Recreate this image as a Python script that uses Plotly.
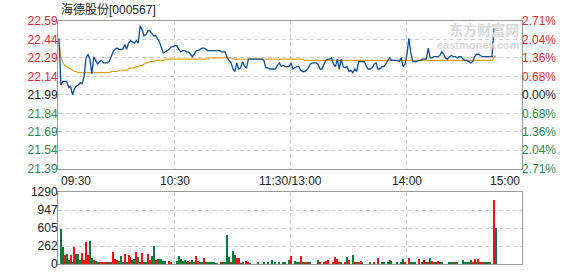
import plotly.graph_objects as go

# ---------------- data ----------------
title_text = "海德股份[000567]"
time_labels = ["09:30", "10:30", "11:30/13:00", "14:00", "15:00"]
time_label_minutes = [0, 60, 120, 180, 239.5]
grid_minutes = [60, 120, 180]

price_tick_labels = ["21.39", "21.54", "21.69", "21.84", "21.99", "22.14", "22.29", "22.44", "22.59"]
price_tick_values = [21.39, 21.54, 21.69, 21.84, 21.99, 22.14, 22.29, 22.44, 22.59]
pct_tick_labels = ["2.71%", "2.04%", "1.36%", "0.68%", "0.00%", "0.68%", "1.36%", "2.04%", "2.71%"]
prev_close = 21.99

vol_tick_labels = ["0", "262", "605", "947", "1290"]
vol_tick_values = [0, 322.5, 645, 967.5, 1290]

# minute-by-minute price (09:30 ... 14:46)
price = [
    22.45, 22.07, 22.10, 22.10, 22.10, 22.05, 22.06, 21.99, 22.04, 22.06,
    22.07, 22.09, 22.08, 22.14, 22.29, 22.32, 22.28, 22.16, 22.30, 22.27,
    22.24, 22.26, 22.27, 22.25, 22.25, 22.25, 22.26, 22.30, 22.34, 22.36,
    22.37, 22.36, 22.36, 22.36, 22.40, 22.36, 22.41, 22.43, 22.42, 22.41,
    22.43, 22.41, 22.55, 22.52, 22.47, 22.48, 22.51, 22.51, 22.49, 22.47,
    22.47, 22.44, 22.42, 22.37, 22.33, 22.34, 22.35, 22.36, 22.38, 22.38,
    22.39, 22.39, 22.36, 22.34, 22.35, 22.35, 22.34, 22.34, 22.32, 22.30,
    22.32, 22.35, 22.35, 22.36, 22.37, 22.37, 22.36, 22.35, 22.35, 22.35,
    22.35, 22.35, 22.35, 22.35, 22.34, 22.34, 22.34, 22.29, 22.27, 22.25,
    22.20, 22.18, 22.25, 22.20, 22.21, 22.26, 22.22, 22.21, 22.28, 22.28,
    22.28, 22.28, 22.28, 22.28, 22.28, 22.28, 22.27, 22.21, 22.21, 22.20,
    22.20, 22.20, 22.20, 22.23, 22.25, 22.22, 22.23, 22.22, 22.22, 22.22,
    22.25, 22.20, 22.21, 22.22, 22.22, 22.19, 22.18, 22.18, 22.19, 22.21,
    22.24, 22.25, 22.25, 22.25, 22.24, 22.20, 22.20, 22.24, 22.27, 22.28,
    22.28, 22.29, 22.24, 22.22, 22.28, 22.20, 22.28, 22.22, 22.21, 22.22,
    22.18, 22.19, 22.17, 22.20, 22.18, 22.26, 22.26, 22.26, 22.26, 22.22,
    22.20, 22.20, 22.21, 22.24, 22.25, 22.20, 22.20, 22.22, 22.22, 22.24,
    22.27, 22.29, 22.27, 22.27, 22.27, 22.27, 22.26, 22.29, 22.22, 22.24,
    22.32, 22.45, 22.33, 22.26, 22.26, 22.26, 22.27, 22.27, 22.28, 22.28,
    22.28, 22.37, 22.29, 22.29, 22.30, 22.30, 22.30, 22.31, 22.34, 22.32,
    22.29, 22.28, 22.30, 22.31, 22.30, 22.30, 22.29, 22.30, 22.30, 22.28,
    22.27, 22.27, 22.26, 22.25, 22.26, 22.30, 22.32, 22.32, 22.31, 22.30,
    22.30, 22.30, 22.30, 22.30, 22.30, 22.53, 22.51,
]

# average price line
avg_price = [
    22.43, 22.30, 22.25, 22.23, 22.22, 22.21, 22.20, 22.19, 22.18, 22.18,
    22.17, 22.17, 22.17, 22.17, 22.17, 22.17, 22.17, 22.17, 22.17, 22.17,
    22.17, 22.17, 22.17, 22.17, 22.17, 22.17, 22.17, 22.18, 22.18, 22.18,
    22.18, 22.19, 22.19, 22.19, 22.19, 22.19, 22.20, 22.21, 22.21, 22.21,
    22.22, 22.22, 22.23, 22.23, 22.24, 22.25, 22.25, 22.26, 22.26, 22.26,
    22.27, 22.27, 22.27, 22.27, 22.27, 22.28, 22.28, 22.28, 22.28, 22.28,
    22.28, 22.28, 22.28, 22.28, 22.28, 22.28, 22.28, 22.28, 22.28, 22.28,
    22.28, 22.28, 22.28, 22.28, 22.28, 22.28, 22.28, 22.28, 22.29, 22.29,
    22.29, 22.29, 22.29, 22.29, 22.29, 22.29, 22.29, 22.29, 22.29, 22.29,
    22.28, 22.28, 22.28, 22.28, 22.28, 22.28, 22.28, 22.28, 22.28, 22.28,
    22.28, 22.28, 22.28, 22.28, 22.28, 22.28, 22.28, 22.28, 22.28, 22.28,
    22.28, 22.28, 22.28, 22.28, 22.28, 22.28, 22.28, 22.28, 22.28, 22.28,
    22.28, 22.28, 22.28, 22.28, 22.28, 22.28, 22.28, 22.27, 22.27, 22.27,
    22.27, 22.27, 22.27, 22.27, 22.27, 22.27, 22.27, 22.27, 22.27, 22.27,
    22.27, 22.27, 22.27, 22.27, 22.27, 22.27, 22.27, 22.27, 22.27, 22.27,
    22.27, 22.27, 22.27, 22.27, 22.27, 22.27, 22.27, 22.27, 22.27, 22.27,
    22.27, 22.27, 22.27, 22.27, 22.27, 22.27, 22.27, 22.27, 22.27, 22.27,
    22.27, 22.27, 22.27, 22.27, 22.27, 22.27, 22.27, 22.27, 22.27, 22.27,
    22.27, 22.27, 22.27, 22.27, 22.27, 22.27, 22.27, 22.27, 22.27, 22.27,
    22.27, 22.27, 22.27, 22.27, 22.27, 22.27, 22.27, 22.27, 22.27, 22.27,
    22.27, 22.27, 22.27, 22.27, 22.27, 22.27, 22.27, 22.27, 22.27, 22.27,
    22.27, 22.27, 22.27, 22.27, 22.27, 22.27, 22.27, 22.27, 22.27, 22.27,
    22.27, 22.27, 22.27, 22.27, 22.27, 22.29, 22.31,
]

# volume per minute
volume = [
    0, 622, 296, 168, 180, 64, 168, 41, 296, 180,
    180, 76, 198, 76, 389, 157, 418, 105, 64, 52,
    41, 35, 23, 35, 35, 23, 35, 17, 209, 87,
    76, 58, 139, 23, 174, 41, 157, 128, 64, 93,
    209, 128, 41, 192, 23, 41, 174, 70, 139, 314,
    70, 87, 87, 87, 58, 46, 0, 46, 29, 0,
    0, 58, 145, 93, 58, 76, 41, 58, 17, 76,
    17, 134, 58, 29, 41, 105, 17, 29, 17, 29,
    17, 6, 6, 0, 41, 41, 29, 511, 122, 17,
    230, 155, 105, 105, 6, 17, 0, 52, 41, 6,
    0, 0, 0, 17, 0, 0, 41, 0, 29, 0,
    70, 0, 17, 0, 17, 0, 17, 17, 0, 70,
    139, 0, 52, 17, 17, 139, 17, 35, 35, 23,
    17, 0, 0, 0, 70, 23, 0, 23, 52, 70,
    0, 0, 23, 122, 87, 23, 41, 0, 41, 122,
    64, 0, 157, 35, 17, 23, 52, 23, 0, 0,
    0, 41, 0, 41, 0, 110, 0, 23, 23, 0,
    41, 70, 52, 0, 0, 23, 0, 23, 87, 23,
    0, 110, 17, 17, 23, 0, 87, 0, 17, 64,
    17, 41, 105, 52, 29, 41, 52, 41, 17, 0,
    0, 0, 17, 17, 17, 17, 17, 0, 0, 76,
    17, 17, 41, 70, 41, 87, 17, 87, 17, 41,
    17, 41, 17, 17, 0, 1150, 645,
]
# minutes whose volume bar is red (trade up); all others are green
up_minutes = [3, 6, 8, 12, 13, 14, 15, 18, 22, 23, 24, 26, 28, 29, 30, 34, 36, 37,
              40, 42, 43, 46, 47, 50, 57, 58, 67, 71, 72, 75, 84, 89, 92, 93, 94,
              97, 98, 120, 125, 127, 129, 135, 137, 138, 139, 142, 143, 144, 145,
              148, 150, 153, 155, 156, 163, 165, 171, 179, 181, 186, 189, 191, 193,
              195, 196, 205, 214, 215, 217, 218, 219, 225]

minutes = list(range(len(price)))

# ---------------- style ----------------
RED = "#e52a2a"
GREEN = "#2d8a4e"
DARK = "#222222"
BAR_RED = "#f01414"
BAR_GREEN = "#0b7a3b"
FRAME = "#9a9a9a"
GRID = "#cfcfcf"
FONT = "Liberation Sans, Noto Sans CJK SC, sans-serif"


def colored(text, color):
    return f'<span style="color:{color}">{text}</span>'


price_ticktext = []
pct_ticktext = []
for v, lab, plab in zip(price_tick_values, price_tick_labels, pct_tick_labels[::-1]):
    if v > prev_close + 1e-9:
        c = RED
    elif v < prev_close - 1e-9:
        c = GREEN
    else:
        c = DARK
    price_ticktext.append(colored(lab, c))
    pct_ticktext.append(colored(plab, c))

bar_colors = [BAR_RED if i in up_minutes else BAR_GREEN for i in minutes]

fig = go.Figure()

# invisible helper trace so the right-hand percent axis is drawn
fig.add_trace(go.Scatter(x=minutes, y=price, mode="lines", line=dict(width=0, color="rgba(0,0,0,0)"),
                         xaxis="x", yaxis="y3", hoverinfo="skip"))
fig.add_trace(go.Scatter(x=minutes, y=avg_price, mode="lines",
                         line=dict(color="#e3a21a", width=1.2),
                         xaxis="x", yaxis="y", hoverinfo="skip"))
fig.add_trace(go.Scatter(x=minutes, y=price, mode="lines",
                         line=dict(color="#0b4d9f", width=1.3),
                         xaxis="x", yaxis="y", hoverinfo="skip"))
fig.add_trace(go.Bar(x=minutes, y=volume,
                     marker=dict(color=bar_colors, line=dict(width=0)),
                     width=0.55, xaxis="x2", yaxis="y2", hoverinfo="skip"))

axis_common = dict(showline=True, mirror=True, linecolor=FRAME, linewidth=1,
                   zeroline=False, ticks="", fixedrange=True)
grid_common = dict(showgrid=True, gridcolor=GRID, gridwidth=1, griddash="4px,3px")

fig.update_layout(
    width=578, height=276,
    margin=dict(l=58, r=56, t=21, b=5),
    paper_bgcolor="white", plot_bgcolor="white",
    showlegend=False,
    font=dict(family=FONT, size=12, color=DARK),
    bargap=0,
    xaxis=dict(domain=[0, 1], range=[-0.5, 239.5], anchor="y",
               tickvals=grid_minutes, showticklabels=False,
               **grid_common, **axis_common),
    yaxis=dict(domain=[0.392, 1], range=[price_tick_values[0], price_tick_values[-1]],
               anchor="x", tickvals=price_tick_values, ticktext=price_ticktext,
               tickfont=dict(size=12, family=FONT), ticklabelstandoff=-3,
               **grid_common, **axis_common),
    yaxis3=dict(overlaying="y", side="right", anchor="x",
                range=[price_tick_values[0], price_tick_values[-1]],
                tickvals=price_tick_values, ticktext=pct_ticktext,
                tickfont=dict(size=12, family=FONT), ticklabelstandoff=-1,
                showgrid=False, showline=False, zeroline=False, ticks="", fixedrange=True),
    xaxis2=dict(domain=[0, 1], range=[-0.5, 239.5], anchor="y2",
                tickvals=grid_minutes, showticklabels=False,
                **grid_common, **axis_common),
    yaxis2=dict(domain=[0, 0.296], range=[0, 1290], anchor="x2",
                tickvals=vol_tick_values, ticktext=vol_tick_labels,
                tickfont=dict(size=12, family=FONT, color=DARK), ticklabelstandoff=-3,
                **grid_common, **axis_common),
)

annotations = []
anchors = ["left", "center", "center", "center", "right"]
for m, lab, anc in zip(time_label_minutes, time_labels, anchors):
    annotations.append(dict(x=m, xref="x", y=0.34, yref="paper", text=lab,
                            showarrow=False, xanchor=anc, yanchor="middle",
                            font=dict(size=12, family=FONT, color=DARK)))
annotations.append(dict(x=0, xref="paper", y=1.048, yref="paper", text=title_text,
                        showarrow=False, xanchor="left", yanchor="middle", xshift=1,
                        font=dict(size=12, family=FONT, color=DARK)))
# watermark (one two-line text)
annotations.append(dict(x=0.999, xref="paper", y=0.942, yref="paper",
                        text=('<span style="font-size:14px;font-family:Noto Sans CJK SC"><b>东方财富网</b></span>'
                              '<br><b>eastmoney.com</b>'),
                        align="right", showarrow=False, xanchor="right", yanchor="middle",
                        font=dict(size=11, family="Liberation Sans", color="#d8d8d8")))
fig.update_layout(annotations=annotations)

fig.write_html("out.html")
